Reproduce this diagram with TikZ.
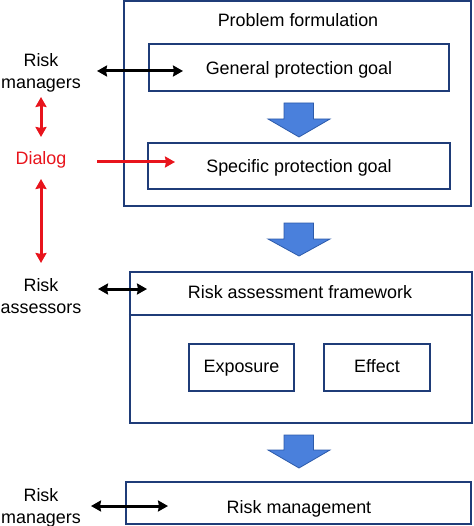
\documentclass[tikz,border=0pt]{standalone}
\usepackage{fontspec}
\setmainfont{Liberation Sans}
\usetikzlibrary{arrows.meta}
\definecolor{navy}{HTML}{1F3C78}
\definecolor{arrblue}{HTML}{4A80DC}
\definecolor{arredge}{HTML}{2D5BAA}
\definecolor{dlgred}{HTML}{E8141C}
\begin{document}
\begin{tikzpicture}[x=1bp,y=-1bp,
  every node/.style={font=\fontsize{18}{22}\selectfont, inner sep=0pt},
  box/.style={draw=navy, line width=2.2bp},
  txt/.style={anchor=base},
  lbl/.style={align=center, text=black},
  dbl/.style={{Stealth[length=10bp,width=11bp,inset=1bp]}-{Stealth[length=10bp,width=11bp,inset=1bp]}, line width=3bp},
  one/.style={-{Stealth[length=10bp,width=11bp,inset=1bp]}, line width=3bp},
  blockarrow/.style={fill=arrblue, draw=arredge, line width=0.8bp, line join=miter}]
\useasboundingbox (0,0) rectangle (474,526);

% boxes
\node[box, minimum width=347bp, minimum height=205bp] (pf) at (297.5,103.5) {};
\node[box, minimum width=300bp, minimum height=47bp] (gen) at (299,67.5) {};
\node[box, minimum width=302bp, minimum height=46bp] (spec) at (299,166) {};
\node[box, minimum width=342bp, minimum height=151bp] (raf) at (301,347.5) {};
\draw[navy, line width=2.2bp] (raf.west |- 0,315) -- (raf.east |- 0,315);
\node[box, minimum width=105bp, minimum height=47bp] (exp) at (241.5,367.5) {};
\node[box, minimum width=106bp, minimum height=47bp] (eff) at (377,367.5) {};
\node[box, minimum width=345bp, minimum height=42bp] (rm) at (298.5,503) {};

% box texts
\node[txt] (pft) at (298,27) {Problem formulation};
\node[txt] (gent) at (299,75) {General protection goal};
\node[txt] (spect) at (299,173) {Specific protection goal};
\node[txt] (raft) at (300,298.5) {Risk assessment framework};
\node[txt] (expt) at (241.5,372.5) {Exposure};
\node[txt] (efft) at (377,372.5) {Effect};
\node[txt] (rmt) at (299,513) {Risk management};

% block arrows
\foreach \t/\s/\p in {103/119/137, 223/239/256, 435/450/468}{
  \draw[blockarrow] (284,\t) -- (313.5,\t) -- (313.5,\s) -- (330,\s) -- (299,\p) -- (268,\s) -- (284,\s) -- cycle;
}

% left labels
\node[lbl] (rm1) at (41,73) {Risk\\managers};
\node[lbl, text=dlgred] (dlg) at (41,160) {Dialog};
\node[lbl] (ra) at (41,296) {Risk\\assessors};
\node[lbl] (rm2) at (41,508) {Risk\\managers};

\coordinate (a1s) at (97,71);  \coordinate (a1e) at (183,71);
\coordinate (a2s) at (97,162); \coordinate (a2e) at (175,162);
\coordinate (a3s) at (98,289); \coordinate (a3e) at (147,289);
\coordinate (a4s) at (91,506); \coordinate (a4e) at (168,506);
\coordinate (v1s) at (41,97);  \coordinate (v1e) at (41,137);
\coordinate (v2s) at (41,179); \coordinate (v2e) at (41,263);

\draw[dbl] (a1s) -- (a1e);
\draw[one, dlgred] (a2s) -- (a2e);
\draw[dbl] (a3s) -- (a3e);
\draw[dbl] (a4s) -- (a4e);

\draw[dbl, dlgred] (v1s) -- (v1e);
\draw[dbl, dlgred] (v2s) -- (v2e);
\end{tikzpicture}
\end{document}
